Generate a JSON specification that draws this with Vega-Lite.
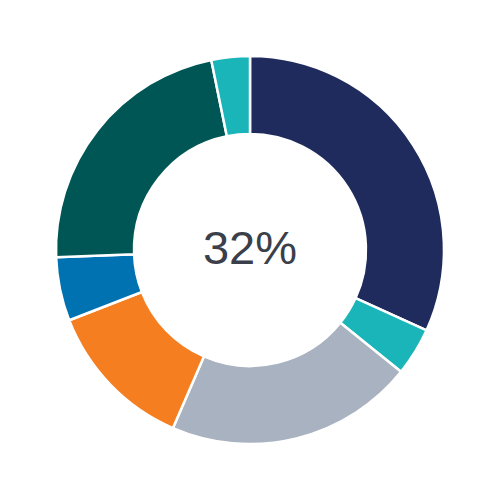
{
  "$schema": "https://vega.github.io/schema/vega-lite/v6.json",
  "width": 500,
  "height": 500,
  "autosize": {"type": "fit", "contains": "padding"},
  "padding": 0,
  "background": "white",
  "config": {"view": {"stroke": null}},
  "layer": [
    {
      "data": {
        "values": [
          {"segment": "A", "order": 1, "share": 31.8},
          {"segment": "B", "order": 2, "share": 4},
          {"segment": "C", "order": 3, "share": 20.7},
          {"segment": "D", "order": 4, "share": 12.6},
          {"segment": "E", "order": 5, "share": 5.3},
          {"segment": "F", "order": 6, "share": 22.4},
          {"segment": "G", "order": 7, "share": 3.2}
        ]
      },
      "mark": {
        "type": "arc",
        "outerRadius": 194,
        "innerRadius": 116,
        "stroke": "white",
        "strokeWidth": 2.5
      },
      "encoding": {
        "theta": {"field": "share", "type": "quantitative", "stack": true},
        "order": {"field": "order", "type": "quantitative"},
        "color": {
          "field": "segment",
          "type": "nominal",
          "legend": null,
          "scale": {
            "domain": ["A", "B", "C", "D", "E", "F", "G"],
            "range": ["#1f2b5c", "#1ab5b8", "#a9b2c0", "#f47e20", "#0072b2", "#005654", "#1ab5b8"]
          }
        }
      }
    },
    {
      "data": {"values": [{"label": "32%"}]},
      "mark": {
        "type": "text",
        "font": "Liberation Sans",
        "fontSize": 47,
        "color": "#3a3f4a",
        "align": "center",
        "baseline": "middle"
      },
      "encoding": {
        "text": {"field": "label", "type": "nominal"}
      }
    }
  ]
}
